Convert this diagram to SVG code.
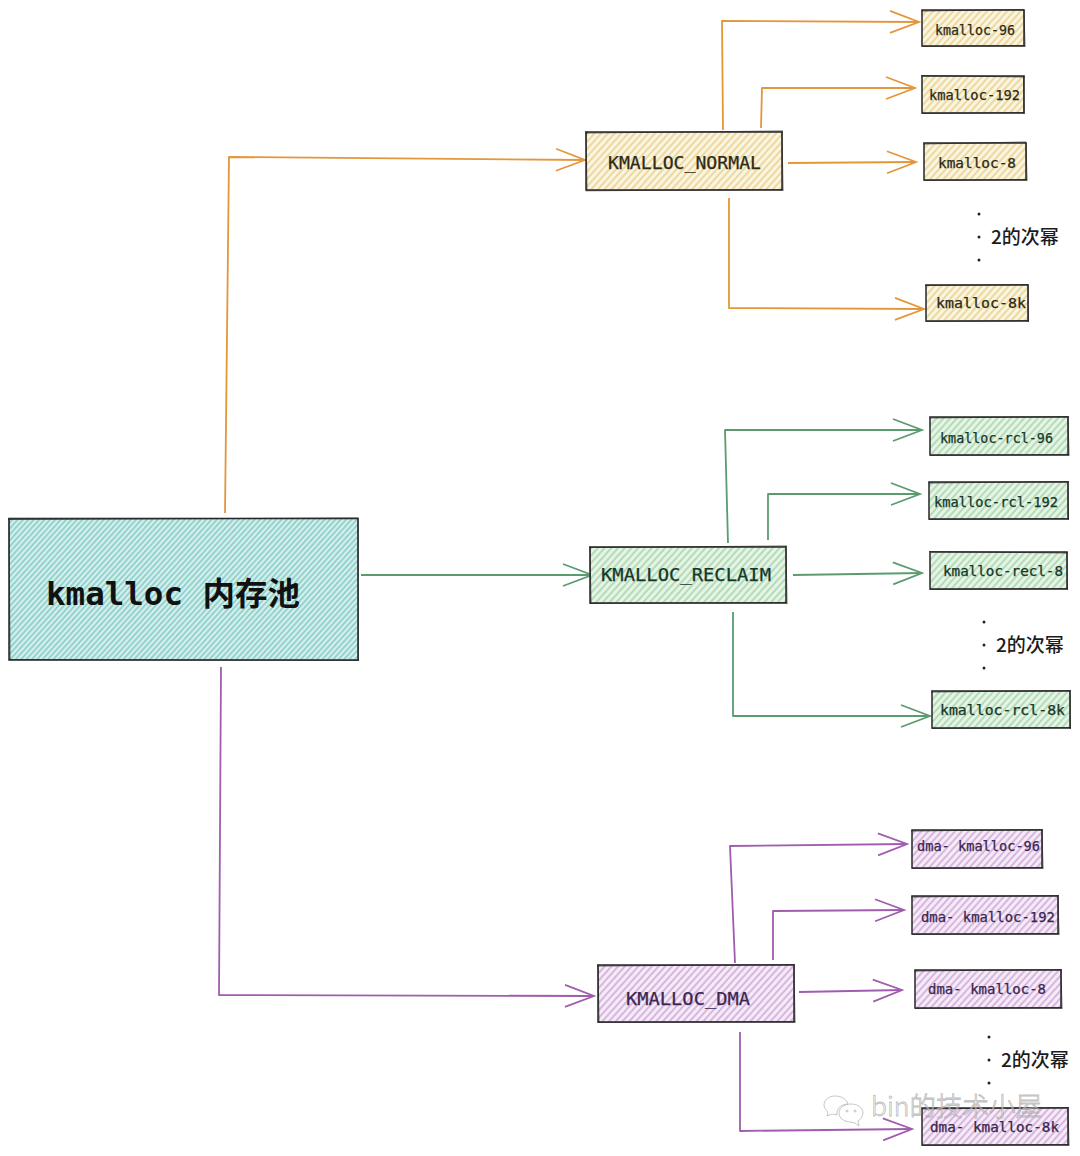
<svg xmlns="http://www.w3.org/2000/svg" width="1080" height="1156" viewBox="0 0 1080 1156">
<style>
.box{stroke:#333;stroke-width:1.6}
.r{fill:none;stroke:#222;stroke-width:.9;stroke-opacity:.8}
.t{font-family:"DejaVu Sans Mono","Noto Sans CJK SC",monospace;text-anchor:middle;stroke-width:.25}
.ty{fill:#2e2a14;stroke:#2e2a14}.tg{fill:#16382a;stroke:#16382a}.tp{fill:#3c2650;stroke:#3c2650}
.s{font-size:13.300px}.m{font-size:18px}
.c{fill:none;stroke-width:1.8;stroke-linejoin:round}
.o{stroke:#e3973a}.g{stroke:#5a9c6e}.p{stroke:#a05cae}
.z{font-family:"Noto Sans CJK SC","Noto Sans",sans-serif;font-size:19px;font-weight:500;fill:#1c1c1c}
.d{fill:#222}
</style>
<defs>
<pattern id="hc" width="4" height="4" patternUnits="userSpaceOnUse" patternTransform="rotate(-48)"><rect width="4" height="4" fill="#d6efec"/><rect width="4" height="1.600" fill="#85cdc8"/></pattern>
<pattern id="hy" width="5" height="5" patternUnits="userSpaceOnUse" patternTransform="rotate(-48)"><rect width="5" height="5" fill="#fbf5e0"/><rect width="5" height="2" fill="#ecd9a2"/></pattern>
<pattern id="hg" width="5" height="5" patternUnits="userSpaceOnUse" patternTransform="rotate(-48)"><rect width="5" height="5" fill="#e6f4e6"/><rect width="5" height="2" fill="#b4dcb8"/></pattern>
<pattern id="hp" width="5" height="5" patternUnits="userSpaceOnUse" patternTransform="rotate(-48)"><rect width="5" height="5" fill="#f5ebf7"/><rect width="5" height="2" fill="#d9b6e0"/></pattern>
<marker id="ao" markerUnits="userSpaceOnUse" markerWidth="34" markerHeight="30" refX="31" refY="15" orient="auto"><path d="M2 4L31 15L2 26" fill="none" stroke="#e3973a" stroke-width="1.800"/></marker>
<marker id="ag" markerUnits="userSpaceOnUse" markerWidth="34" markerHeight="30" refX="31" refY="15" orient="auto"><path d="M2 4L31 15L2 26" fill="none" stroke="#5a9c6e" stroke-width="1.800"/></marker>
<marker id="ap" markerUnits="userSpaceOnUse" markerWidth="34" markerHeight="30" refX="31" refY="15" orient="auto"><path d="M2 4L31 15L2 26" fill="none" stroke="#a05cae" stroke-width="1.800"/></marker>
</defs>
<rect width="1080" height="1156" fill="#fff"/>
<g id="connectors">
<path class="c o" marker-end="url(#ao)" d="M225 513L229 157L585 160"/>
<path class="c o" marker-end="url(#ao)" d="M723 130L722 21L919 22"/>
<path class="c o" marker-end="url(#ao)" d="M761 128L762 88L915 88"/>
<path class="c o" marker-end="url(#ao)" d="M788 163L916 162"/>
<path class="c o" marker-end="url(#ao)" d="M729 198L729 308L924 309"/>
<path class="c g" marker-end="url(#ag)" d="M361 575L592 575"/>
<path class="c g" marker-end="url(#ag)" d="M728 543L725 430L922 430"/>
<path class="c g" marker-end="url(#ag)" d="M768 540L768 494L920 494"/>
<path class="c g" marker-end="url(#ag)" d="M793 575L922 573"/>
<path class="c g" marker-end="url(#ag)" d="M733 612L733 716L930 716"/>
<path class="c p" marker-end="url(#ap)" d="M221 667L219 995L594 996"/>
<path class="c p" marker-end="url(#ap)" d="M735 963L730 846L907 844"/>
<path class="c p" marker-end="url(#ap)" d="M773 960L773 911L904 910"/>
<path class="c p" marker-end="url(#ap)" d="M799 992L902 990"/>
<path class="c p" marker-end="url(#ap)" d="M740 1032L740 1131L912 1129"/>
</g>
<g id="kmalloc-pool"><rect class="box" x="9" y="518.500" width="349" height="141.500" fill="url(#hc)"/><path class="r" d="M8 519.500L358 518M358 518L358.500 661M9 659.500L359 660.500M9 518L10 660"/><text class="t" x="173" y="605" textLength="254" lengthAdjust="spacingAndGlyphs" style="font-size:32px;font-weight:700;stroke-width:0" fill="#111">kmalloc 内存池</text></g>
<g id="normal"><rect class="box" x="586" y="132" width="196" height="58" fill="url(#hy)"/><path class="r" d="M585 133L783 131M782 131L783 191M586 190.800L783 189.500M586 131L587 191"/><text class="t ty m" x="684.500" y="169" textLength="153" lengthAdjust="spacingAndGlyphs">KMALLOC_NORMAL</text></g>
<g id="n96"><rect class="box" x="922" y="10" width="102" height="36" fill="url(#hy)"/><path class="r" d="M921 11L1024 9.500M1024 10L1025 47M922 46.500L1025 45.500"/><text class="t ty s" x="975" y="35" textLength="80" lengthAdjust="spacingAndGlyphs">kmalloc-96</text></g>
<g id="n192"><rect class="box" x="922" y="76" width="102" height="37" fill="url(#hy)"/><path class="r" d="M921 75.500L1025 77M1023.500 76L1024 114M922 113.500L1024 112.500"/><text class="t ty s" x="974.500" y="100" textLength="91" lengthAdjust="spacingAndGlyphs">kmalloc-192</text></g>
<g id="n8"><rect class="box" x="924" y="143" width="102" height="37" fill="url(#hy)"/><path class="r" d="M923 144L1026 142M1026 142L1027 181M924 180.500L1027 179.500"/><text class="t ty s" x="977" y="168" textLength="78" lengthAdjust="spacingAndGlyphs">kmalloc-8</text></g>
<g id="n8k"><rect class="box" x="926" y="285" width="102" height="36" fill="url(#hy)"/><path class="r" d="M925 285.500L1028 284.500M1028 284L1028.500 322M926 321.500L1029 320.500"/><text class="t ty s" x="981" y="308" textLength="90" lengthAdjust="spacingAndGlyphs">kmalloc-8k</text></g>
<g id="reclaim"><rect class="box" x="590" y="547" width="196" height="56" fill="url(#hg)"/><path class="r" d="M589 547.500L787 546M786 546L787 604M590 603.500L787 602.500M590 546L591 604"/><text class="t tg m" x="686" y="581" textLength="170" lengthAdjust="spacingAndGlyphs">KMALLOC_RECLAIM</text></g>
<g id="r96"><rect class="box" x="930" y="417" width="138" height="38" fill="url(#hg)"/><path class="r" d="M929 418L1069 416.500M1068 417L1069 456M930 455.500L1069 454.500"/><text class="t tg s" x="996.500" y="443" textLength="113" lengthAdjust="spacingAndGlyphs">kmalloc-rcl-96</text></g>
<g id="r192"><rect class="box" x="929" y="482" width="139" height="37" fill="url(#hg)"/><path class="r" d="M928 483L1069 481.500M1068 482L1068.500 520M929 519.500L1069 518.500"/><text class="t tg s" x="996" y="507" textLength="124" lengthAdjust="spacingAndGlyphs">kmalloc-rcl-192</text></g>
<g id="r8"><rect class="box" x="930" y="552" width="137" height="37" fill="url(#hg)"/><path class="r" d="M929 551.500L1068 553M1067 552L1067.500 590M930 589.500L1068 588.500"/><text class="t tg s" x="1003" y="576" textLength="120" lengthAdjust="spacingAndGlyphs">kmalloc-recl-8</text></g>
<g id="r8k"><rect class="box" x="932" y="691" width="138" height="37" fill="url(#hg)"/><path class="r" d="M931 692L1071 690.500M1070 691L1070.500 729M932 728.500L1071 727.500"/><text class="t tg s" x="1002.500" y="715" textLength="125" lengthAdjust="spacingAndGlyphs">kmalloc-rcl-8k</text></g>
<g id="dma"><rect class="box" x="598" y="965" width="196" height="57" fill="url(#hp)"/><path class="r" d="M597 966L795 964.500M794 965L795 1023M598 1022.500L795 1021.500M598 964L599 1023"/><text class="t tp m" x="688" y="1005" textLength="124" lengthAdjust="spacingAndGlyphs">KMALLOC_DMA</text></g>
<g id="d96"><rect class="box" x="912" y="830" width="130" height="38" fill="url(#hp)"/><path class="r" d="M911 831L1043 829.500M1042 830L1043 869M912 868.500L1043 867.500"/><text class="t tp s" x="978.500" y="851" textLength="123" lengthAdjust="spacingAndGlyphs">dma- kmalloc-96</text></g>
<g id="d192"><rect class="box" x="912" y="896" width="146" height="38" fill="url(#hp)"/><path class="r" d="M911 897L1059 895.500M1058 896L1059 935M912 934.500L1059 933.500"/><text class="t tp s" x="988" y="922" textLength="134" lengthAdjust="spacingAndGlyphs">dma- kmalloc-192</text></g>
<g id="d8"><rect class="box" x="915" y="970" width="146" height="38" fill="url(#hp)"/><path class="r" d="M914 971L1062 969.500M1061 970L1062 1009M915 1008.500L1062 1007.500"/><text class="t tp s" x="987" y="994" textLength="118" lengthAdjust="spacingAndGlyphs">dma- kmalloc-8</text></g>
<g id="d8k"><rect class="box" x="922" y="1108" width="146" height="37" fill="url(#hp)"/><path class="r" d="M921 1109L1069 1107.500M1068 1108L1069 1146M922 1145.500L1069 1144.500"/><text class="t tp s" x="994.500" y="1132" textLength="129" lengthAdjust="spacingAndGlyphs">dma- kmalloc-8k</text></g>
<g id="note-normal"><circle class="d" cx="979" cy="214" r="1.500"/><circle class="d" cx="979" cy="237" r="1.500"/><circle class="d" cx="979" cy="260" r="1.500"/><text class="z" x="991" y="244">2的次幂</text></g>
<g id="note-reclaim"><circle class="d" cx="984" cy="622" r="1.500"/><circle class="d" cx="984" cy="645" r="1.500"/><circle class="d" cx="984" cy="668" r="1.500"/><text class="z" x="996" y="652">2的次幂</text></g>
<g id="note-dma"><circle class="d" cx="989" cy="1037" r="1.500"/><circle class="d" cx="989" cy="1060" r="1.500"/><circle class="d" cx="989" cy="1083" r="1.500"/><text class="z" x="1001" y="1067">2的次幂</text></g>
<g id="watermark" fill="#fff" fill-opacity=".55" stroke="#8c8c8c" stroke-opacity=".6" stroke-width=".8">
<path d="M835 1096c-6 0-11 4-11 9 0 3 2 5 4 7l-1 4 5-2 5 1c-1-6 4-11 11-11-1-5-7-8-13-8z"/>
<path d="M851 1104c-7 0-12 4-12 9s5 9 12 9l4 1 4 3-1-5c3-2 5-5 5-8 0-5-5-9-12-9z"/>
<circle cx="847" cy="1111" r="1"/><circle cx="855" cy="1111" r="1"/>
<text x="871" y="1116" style="font-family:'Noto Sans CJK SC','Noto Sans',sans-serif;font-size:26.500px;font-weight:300">bin的技术小屋</text>
</g>
</svg>
